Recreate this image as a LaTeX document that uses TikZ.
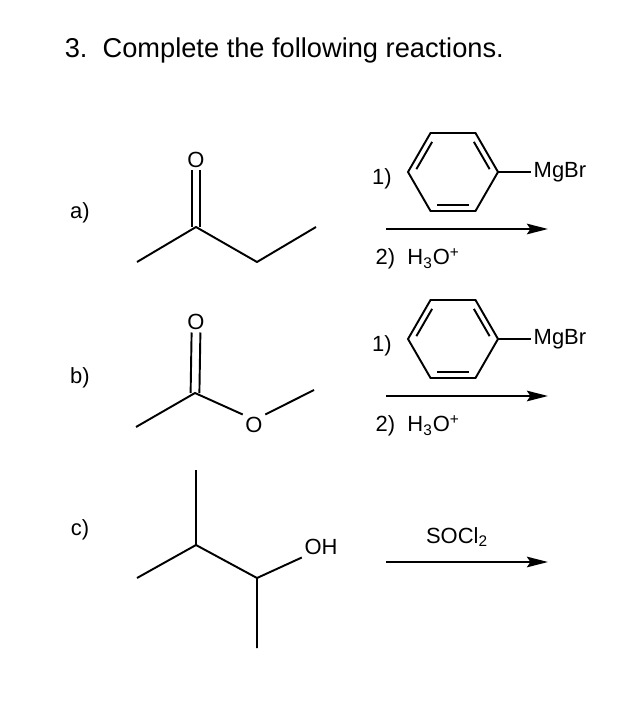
\documentclass[tikz,border=0pt]{standalone}
\usepackage{fontspec}
\setmainfont{Liberation Sans}
\usetikzlibrary{positioning,calc,arrows.meta}

\begin{document}
\begin{tikzpicture}[x=0.02cm,y=-0.02cm, line width=1.1pt,
    lbl/.style={font=\fontsize{12.5}{14}\selectfont, inner sep=1pt},
    rxn/.style={-{Stealth[length=12pt,width=6pt,inset=2pt]}, line width=1.3pt}]
    \useasboundingbox (0,0) rectangle (640,702);

    \node[anchor=west, font=\fontsize{15.5}{18}\selectfont] (title) at (58,50) {3.\ \ Complete the following reactions.};

    % a) butanone
    \node[lbl] (la) at (80,213) {a)};
    \coordinate (a1) at (137,262);
    \coordinate (a2) at (196,227);
    \coordinate (a3) at (257,262);
    \coordinate (a4) at (316,227);
    \node[lbl] (ao) at (196,160) {O};
    \draw (a1) -- (a2) -- (a3) -- (a4);
    \draw ([xshift=-2.5]a2) -- ([xshift=-2.5]ao.south);
    \draw ([xshift=2.5]a2) -- ([xshift=2.5]ao.south);

    % b) methyl acetate
    \node[lbl] (lb) at (80,378) {b)};
    \coordinate (b1) at (136,427);
    \coordinate (b2) at (195,393);
    \node[lbl] (bo) at (254,425) {O};
    \coordinate (b4) at (314,390);
    \node[lbl] (bo2) at (196,322) {O};
    \draw (b1) -- (b2) -- (bo.north west);
    \draw (bo.north east) -- (b4);
    \draw ([xshift=-2.5]b2) -- ([xshift=-2.5]bo2.south);
    \draw ([xshift=2.5]b2) -- ([xshift=2.5]bo2.south);

    % c) alcohol
    \node[lbl] (lc) at (80,530) {c)};
    \coordinate (c0) at (196,470);
    \coordinate (c1) at (137,578);
    \coordinate (c2) at (196,545);
    \coordinate (c3) at (257,578);
    \coordinate (c4) at (257,648);
    \node[lbl] (coh) at (321,547) {OH};
    \draw (c0) -- (c2);
    \draw (c1) -- (c2) -- (c3) -- (c4);
    \draw (c3) -- (coh.south west);

    % reagents
    \foreach \n/\y in {a/0,b/167}{
        \begin{scope}[yshift=-\y*0.02cm]
            \foreach \i in {0,...,5}
                \coordinate (r\n\i) at ({453+45*cos(60*\i)},{172-45*sin(60*\i)});
            \draw (r\n0) -- (r\n1) -- (r\n2) -- (r\n3) -- (r\n4) -- (r\n5) -- cycle;
            \draw ($(r\n2)!0.15!(r\n3)+(5,3)$) -- ($(r\n2)!0.85!(r\n3)+(5,3)$);
            \draw ($(r\n0)!0.15!(r\n1)+(-5,3)$) -- ($(r\n0)!0.85!(r\n1)+(-5,3)$);
            \draw ($(r\n4)!0.15!(r\n5)+(0,-6)$) -- ($(r\n4)!0.85!(r\n5)+(0,-6)$);
            \node[lbl, anchor=west] (mg\n) at (531,172) {MgBr};
            \draw (r\n0) -- (mg\n.west);
            \node[lbl] (one\n) at (382,179) {1)};
            \coordinate (s\n) at (386,229);
            \coordinate (e\n) at (548,229);
            \draw[rxn] (s\n) -- (e\n);
            \node[lbl, anchor=west] (two\n) at (373,259) {2)\ \ H\textsubscript{3}O\textsuperscript{+}};
        \end{scope}
    }
    \node[lbl] (socl) at (457,537) {SOCl\textsubscript{2}};
    \coordinate (sc) at (386,562);
    \coordinate (ec) at (548,562);
    \draw[rxn] (sc) -- (ec);
\end{tikzpicture}
\end{document}
